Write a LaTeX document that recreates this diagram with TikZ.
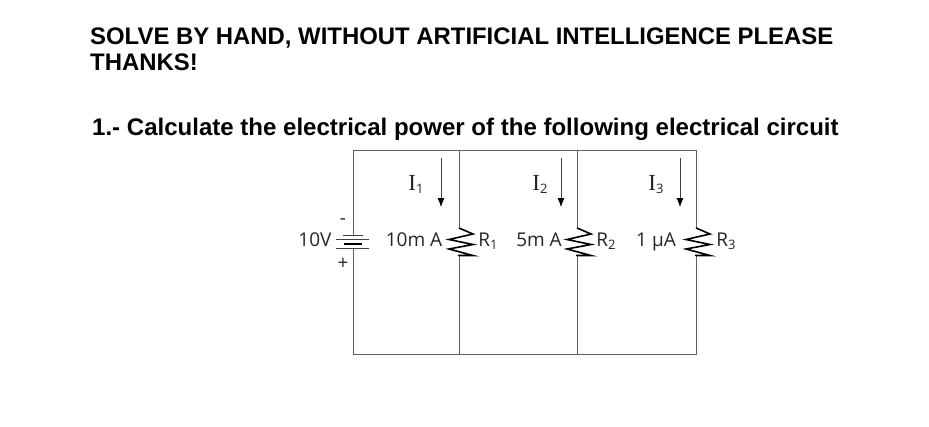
\documentclass[tikz,border=0pt]{standalone}
\usepackage{fontspec}
\setmainfont{Open Sans}
\newfontfamily\titlefont{Liberation Sans}
\newfontfamily\ifont{Liberation Serif}
\usetikzlibrary{arrows.meta}
\tikzset{
  x=1pt,y=-1pt,
  wire/.style={draw=black!62,line width=0.9pt},
  zig/.style={draw=black,line width=1.6pt,line join=miter},
  plate/.style={draw=black!75,line width=1pt},
  thickplate/.style={draw=black,line width=2.4pt},
  flow/.style={draw=black!75,line width=0.8pt,-{Latex[length=9pt,width=7pt,black]}},
  title/.style={inner sep=0,anchor=base west,font=\titlefont\bfseries\fontsize{23.9}{25}\selectfont},
  title3/.style={title,font=\titlefont\bfseries\fontsize{24.03}{25}\selectfont},
  lab/.style={inner sep=0,anchor=base,font=\fontsize{19}{20}\selectfont,text=black!85},
  cur/.style={inner sep=0,anchor=base,text=black!85}
}
\newcommand{\Inm}[1]{{\ifont\fontsize{23}{23}\selectfont I}\raisebox{-3pt}{\fontsize{13}{13}\selectfont #1}}
\newcommand{\Rnm}[1]{R\raisebox{-3pt}{\fontsize{13}{13}\selectfont #1}}
\begin{document}
\begin{tikzpicture}
\useasboundingbox (0,0) rectangle (929,426);
\fill[white] (0,0) rectangle (929,426);
% titles
\node[title] (t1) at (90,44) {SOLVE BY HAND, WITHOUT ARTIFICIAL INTELLIGENCE PLEASE};
\node[title] (t2) at (90,70) {THANKS!};
\node[title3] (t3) at (92,135) {1.- Calculate the electrical power of the following electrical circuit};
% corners and junctions
\coordinate (tl) at (353,150); \coordinate (t1j) at (459,150); \coordinate (t2j) at (577,150); \coordinate (tr) at (696,150);
\coordinate (bl) at (353,354); \coordinate (b1j) at (459,354); \coordinate (b2j) at (577,354); \coordinate (br) at (696,354);
\coordinate (batTop) at (353,235); \coordinate (batBot) at (353,248);
\coordinate (r1t) at (459,228); \coordinate (r1b) at (459,256);
\coordinate (r2t) at (577,228); \coordinate (r2b) at (577,256);
\coordinate (r3t) at (696,228); \coordinate (r3b) at (696,256);
% wires
\draw[wire] (batTop) -- (tl) -- (tr) -- (r3t);
\draw[wire] (r3b) -- (br) -- (bl) -- (batBot);
\draw[wire] (t1j) -- (r1t) (r1b) -- (b1j);
\draw[wire] (t2j) -- (r2t) (r2b) -- (b2j);
% resistors
\foreach \a/\b in {r1t/r1b,r2t/r2b,r3t/r3b}{
  \draw[zig] (\a) -- ++(14,6) -- ++(-24,5.5) -- ++(24,5) -- ++(-24,4.5) -- ++(24,6.5) -- ++(-14,0) -- (\b);
}
% battery
\draw[plate] (343,235) -- (363,235);
\draw[plate] (336,239.5) -- (369,239.5);
\draw[thickplate] (344,244) -- (362,244);
\draw[plate] (336,248) -- (369,248);
% current arrows
\coordinate (a1s) at (441,158); \coordinate (a1e) at (441,207);
\coordinate (a2s) at (561,158); \coordinate (a2e) at (561,207);
\coordinate (a3s) at (680,158); \coordinate (a3e) at (680,207);
\draw[flow] (a1s) -- (a1e);
\draw[flow] (a2s) -- (a2e);
\draw[flow] (a3s) -- (a3e);
% labels
\node[cur] (i1) at (416,190) {\Inm{1}};
\node[cur] (i2) at (540,190) {\Inm{2}};
\node[cur] (i3) at (656,190) {\Inm{3}};
\node[lab] (v) at (315,246) {10V};
\node[lab] (minus) at (343,224) {-};
\node[lab] (plus) at (343,269) {+};
\node[lab] (c1) at (414,246) {10m A};
\node[lab] (c2) at (539,246) {5m A};
\node[lab] (c3) at (656,246) {1 µA};
\node[lab] (r1) at (488,246) {\Rnm{1}};
\node[lab] (r2) at (606,246) {\Rnm{2}};
\node[lab] (r3) at (726,246) {\Rnm{3}};
\end{tikzpicture}
\end{document}
